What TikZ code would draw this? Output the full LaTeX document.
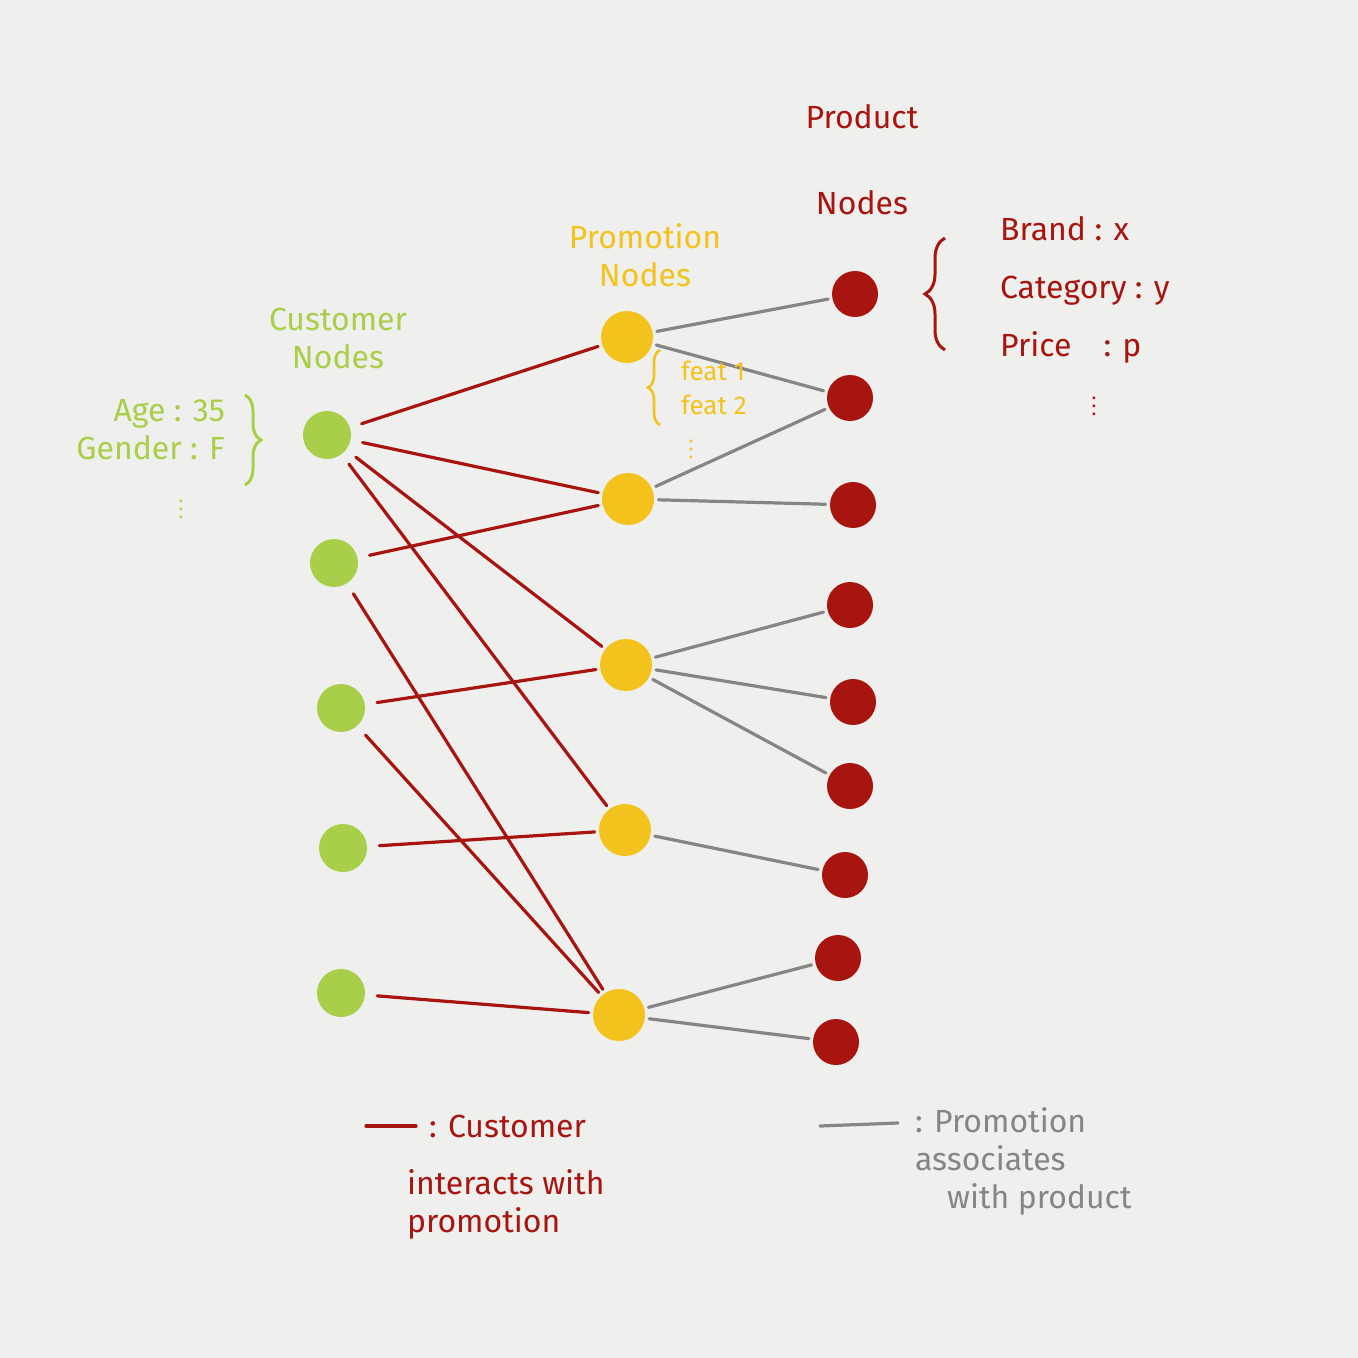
\documentclass[tikz,border=0pt]{standalone}
\usepackage{fontspec}
\setmainfont{Fira Sans}
\usetikzlibrary{decorations.pathreplacing}
\definecolor{bg}{HTML}{EFEFEE}
\definecolor{cg}{HTML}{A9CF4A}
\definecolor{py}{HTML}{F4C21C}
\definecolor{pr}{HTML}{A8140F}
\definecolor{gl}{HTML}{858585}
\newlength{\unitpt}\setlength{\unitpt}{0.5pt}
\tikzset{
 cust/.style={circle,fill=cg,minimum size=48\unitpt,inner sep=0},
 promo/.style={circle,fill=py,minimum size=52\unitpt,inner sep=0},
 prod/.style={circle,fill=pr,minimum size=46\unitpt,inner sep=0},
 redl/.style={draw=pr,line width=1.6pt,line cap=round,shorten <=6pt,shorten >=2pt},
 grayl/.style={draw=gl,line width=1.6pt,line cap=round,shorten <=2pt,shorten >=2pt},
 lab/.style={font=\fontsize{16}{19}\selectfont,align=left},
}
\begin{document}
\begin{tikzpicture}[x=0.5pt,y=-0.5pt]
\fill[bg] (0,0) rectangle (1358,1358);
\foreach \n/\x/\y in {1/327/435,2/334/563,3/341/708,4/343/848,5/341/993}
  \node[cust] (c\n) at (\x,\y) {};
\foreach \n/\x/\y in {1/627/337,2/628/499,3/626/665,4/625/830,5/619/1015}
  \node[promo] (p\n) at (\x,\y) {};
\foreach \n/\x/\y in {1/855/294,2/850/398,3/853/505,4/850/605,5/853/702,6/850/786,7/845/875,8/838/958,9/836/1042}
  \node[prod] (d\n) at (\x,\y) {};
\draw[redl] (c1) -- (p1);
\draw[redl] (c1) -- (p2);
\draw[redl] (c1) -- (p3);
\draw[redl] (c1) -- (p4);
\draw[redl] (c2) -- (p2);
\draw[redl] (c2) -- (p5);
\draw[redl] (c3) -- (p3);
\draw[redl] (c3) -- (p5);
\draw[redl] (c4) -- (p4);
\draw[redl] (c5) -- (p5);
\draw[grayl] (p1) -- (d1);
\draw[grayl] (p1) -- (d2);
\draw[grayl] (p2) -- (d2);
\draw[grayl] (p2) -- (d3);
\draw[grayl] (p3) -- (d4);
\draw[grayl] (p3) -- (d5);
\draw[grayl] (p3) -- (d6);
\draw[grayl] (p4) -- (d7);
\draw[grayl] (p5) -- (d8);
\draw[grayl] (p5) -- (d9);
\node[lab,text=pr,align=center] (tprod) at (862,160) {Product\\[24pt]Nodes};
\node[lab,text=py,align=center] (tpromo) at (645,255) {Promotion\\Nodes};
\node[lab,text=cg,align=center] (tcust) at (338,338) {Customer\\Nodes};
\draw[pr,line width=1.5pt,decorate,decoration={brace,amplitude=10pt}] (945,350) -- (945,238);
\node[lab,text=pr,anchor=west] (attr) at (993,290) {Brand : x\\[10pt]Category : y\\[10pt]Price\quad : p};
\node[text=pr] (pdots) at (1094,400) {$\vdots$};
\draw[py,line width=1.3pt,decorate,decoration={brace,amplitude=6pt}] (660,425) -- (660,350);
\node[lab,text=py,anchor=west,font=\fontsize{13}{17}\selectfont] (feat) at (674,388) {feat 1\\feat 2};
\node[text=py] (fdots) at (691,443) {$\vdots$};
\draw[cg,line width=1.5pt,decorate,decoration={brace,amplitude=8pt}] (245,395) -- (245,485);
\node[lab,text=cg,align=right,anchor=east] (cattr) at (232,430) {Age : 35\\Gender : F};
\node[text=cg] (cdots) at (181,503) {$\vdots$};
\coordinate (r1) at (366,1126); \coordinate (r2) at (416,1126);
\draw[pr,line width=1.6pt,line cap=round] (r1) -- (r2);
\node[lab,text=pr,anchor=west] (leg1) at (422,1126) {: Customer};
\node[lab,text=pr,anchor=north west] (leg1b) at (400,1162) {interacts with\\promotion};
\coordinate (g1) at (820,1126); \coordinate (g2) at (898,1123);
\draw[gl,line width=1.6pt,line cap=round] (g1) -- (g2);
\node[lab,text=gl,anchor=north west] (leg2) at (908,1100) {: Promotion\\associates\\\quad with product};
\end{tikzpicture}
\end{document}
